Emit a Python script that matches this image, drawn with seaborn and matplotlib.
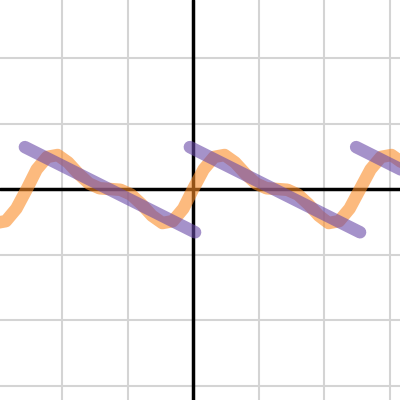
import matplotlib
matplotlib.use("Agg")
import matplotlib.pyplot as plt
import seaborn as sns
import pandas as pd

# smooth (orange) curve samples
curve_x = [-3.02, -2.86, -2.70, -2.54, -2.39, -2.23, -2.07, -1.91, -1.75, -1.59,
           -1.43, -1.27, -1.11, -0.95, -0.79, -0.63, -0.47, -0.31, -0.15, 0.00,
           0.16, 0.32, 0.48, 0.64, 0.80, 0.96, 1.12, 1.28, 1.44, 1.60,
           1.76, 1.92, 2.07, 2.23, 2.39, 2.55, 2.71, 2.87, 3.03, 3.19]
curve_y = [-0.519, -0.490, -0.299, 0.0, 0.299, 0.490, 0.519, 0.406, 0.231, 0.084,
           0.012, 0.0, -0.012, -0.084, -0.231, -0.406, -0.519, -0.490, -0.299, 0.0,
           0.299, 0.490, 0.519, 0.406, 0.231, 0.084, 0.012, 0.0, -0.012, -0.084,
           -0.231, -0.406, -0.519, -0.490, -0.299, 0.0, 0.299, 0.490, 0.519, 0.406]

# sawtooth (purple) segments
seg_x0 = [-2.57, -0.05, 2.49]
seg_y0 = [0.64, 0.64, 0.64]
seg_x1 = [0.03, 2.55, 3.30]
seg_y1 = [-0.66, -0.66, 0.235]

sns.set_style("white")
fig = plt.figure(figsize=(4, 4), dpi=100)
ax = fig.add_axes([0, 0, 1, 1])

for g in [-2, -1, 1, 2, 3]:
    ax.axvline(g, color="#d4d4d4", lw=1.5, zorder=0)
for g in [-3, -2, -1, 1, 2]:
    ax.axhline(g, color="#d4d4d4", lw=1.5, zorder=0)
ax.axvline(0, color="black", lw=2.5, zorder=1)
ax.axhline(0, color="black", lw=2.5, zorder=1)

df = pd.DataFrame({"x": curve_x, "y": curve_y})
sns.lineplot(data=df, x="x", y="y", ax=ax, sort=False, color="#fa8c28",
             alpha=0.6, lw=9, solid_capstyle="round", zorder=2)
for x0, y0, x1, y1 in zip(seg_x0, seg_y0, seg_x1, seg_y1):
    ax.plot([x0, x1], [y0, y1], color="#6a4aa8", alpha=0.6, lw=9,
            solid_capstyle="round", zorder=3)

ax.set_xlim(-2.95, 3.16)
ax.set_ylim(-3.22, 2.885)
ax.set_xticks([])
ax.set_yticks([])
ax.set_xlabel("")
ax.set_ylabel("")
for s in ax.spines.values():
    s.set_visible(False)
fig.savefig("out.png", dpi=100)
